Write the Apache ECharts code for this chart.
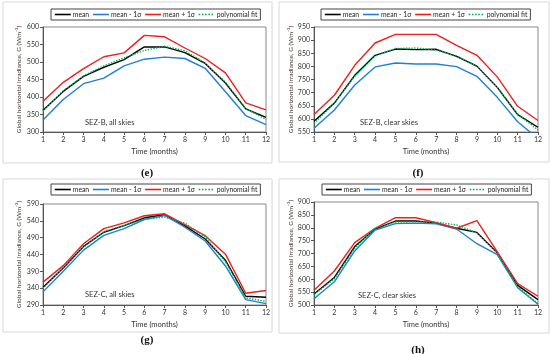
<!DOCTYPE html>
<html><head><meta charset="utf-8">
<script src="https://cdn.jsdelivr.net/npm/echarts@6/dist/echarts.min.js"></script>
<style>html,body{margin:0;padding:0;background:#fff;}#c{width:550px;height:354px;}</style>
</head><body><div id="c"></div>
<script>
const months = ['1','2','3','4','5','6','7','8','9','10','11','12'];
const seriesNames = ['mean', 'mean - 1σ', 'mean + 1σ', 'polynomial fit'];
const panelTitles = ['SEZ-B, all skies', 'SEZ-B, clear skies', 'SEZ-C, all skies', 'SEZ-C, clear skies'];
const panelLetters = ['(e)', '(f)', '(g)', '(h)'];
const yMin = [300, 550, 290, 500];
const yMax = [600, 950, 590, 900];

// (e) SEZ-B, all skies
const eMean  = [362, 416, 459, 485, 507, 543, 543, 527, 496, 440, 366, 342];
const eMinus = [334, 393, 438, 454, 489, 508, 514, 510, 482, 415, 347, 321];
const ePlus  = [388, 442, 481, 515, 526, 576, 572, 540, 510, 469, 383, 363];
const eFit   = [360, 418, 460, 489, 512, 533, 545, 532, 497, 442, 367, 336];
// (f) SEZ-B, clear skies
const fMean  = [591, 660, 766, 842, 866, 864, 865, 838, 801, 720, 616, 568];
const fMinus = [564, 634, 729, 798, 813, 809, 809, 799, 762, 682, 589, 525];
const fPlus  = [617, 690, 804, 889, 922, 922, 922, 880, 842, 760, 648, 594];
const fFit   = [583, 660, 762, 840, 868, 870, 862, 840, 800, 720, 618, 558];
// (g) SEZ-C, all skies
const gMean  = [343, 400, 464, 506, 526, 549, 558, 525, 486, 423, 316, 313];
const gMinus = [329, 390, 453, 497, 517, 544, 556, 521, 480, 406, 306, 294];
const gPlus  = [358, 407, 472, 517, 534, 555, 561, 529, 496, 441, 325, 333];
const gFit   = [340, 400, 462, 508, 526, 545, 551, 533, 492, 418, 311, 301];
// (h) SEZ-C, clear skies
const hMean  = [543, 607, 727, 795, 826, 826, 818, 798, 782, 703, 576, 521];
const hMinus = [524, 590, 710, 791, 816, 818, 815, 795, 738, 696, 567, 503];
const hPlus  = [557, 632, 742, 798, 839, 839, 820, 798, 828, 706, 583, 534];
const hFit   = [540, 602, 720, 799, 822, 823, 822, 811, 780, 702, 571, 505];

const panelData = [
  [eMean, eMinus, ePlus, eFit],
  [fMean, fMinus, fPlus, fFit],
  [gMean, gMinus, gPlus, gFit],
  [hMean, hMinus, hPlus, hFit]
];

const FONT = 'Lato';
const colors = ['#000000', '#1f7fd6', '#f21d1d', '#00b050'];
const lineTypes = ['solid', 'solid', 'solid', 'dotted'];

const grids = [
  {left: 43, top: 27, width: 223, height: 105},
  {left: 314, top: 27, width: 224, height: 105},
  {left: 43, top: 204, width: 223, height: 101},
  {left: 314, top: 202, width: 224, height: 103}
];
const boxes = [
  {x: 3, y: 2, w: 269, h: 161},
  {x: 279, y: 2, w: 270, h: 160},
  {x: 3, y: 179, w: 269, h: 153},
  {x: 279, y: 179, w: 270, h: 154}
];
const legendPos = [
  {left: 51, top: 9}, {left: 321, top: 9}, {left: 51, top: 184}, {left: 322, top: 184}
];
const annotPos = [[85, 119], [360, 119], [85, 291], [358, 292]];
const letterPos = [[147, 173], [418, 173], [147, 340], [418, 350]];
const yNameGap = [21, 19, 21, 19];

const option = {
  animation: false,
  backgroundColor: '#fff',
  grid: grids.map(g => Object.assign({show: true, borderColor: '#888', borderWidth: 1, backgroundColor: 'transparent'}, g)),
  legend: legendPos.map(p => ({
    left: p.left, top: p.top, width: 260,
    data: seriesNames,
    orient: 'horizontal',
    itemWidth: 16, itemHeight: 8, itemGap: 3,
    padding: [2, 3],
    borderColor: '#444', borderWidth: 1,
    selectedMode: false,
    itemStyle: {opacity: 0, borderWidth: 0},
    lineStyle: {width: 1.6},
    textStyle: {fontFamily: FONT, fontSize: 6.8, color: '#222', padding: [0, 0, 0, -3]}
  })),
  xAxis: grids.map((g, i) => ({
    gridIndex: i, type: 'category', data: months, boundaryGap: false,
    name: 'Time (months)', nameLocation: 'middle', nameGap: 16,
    nameTextStyle: {fontFamily: FONT, fontSize: 7.5, color: '#333'},
    axisLine: {lineStyle: {color: '#555', width: 1}},
    axisTick: {show: true, length: 3, lineStyle: {color: '#555'}},
    axisLabel: {fontFamily: FONT, fontSize: 7, color: '#333', margin: 4},
    splitLine: {show: false}
  })),
  yAxis: grids.map((g, i) => ({
    gridIndex: i, type: 'value', min: yMin[i], max: yMax[i], interval: 50,
    name: 'Global horizontal irradiance, G (Wm⁻²)', nameLocation: 'middle', nameGap: yNameGap[i],
    nameTextStyle: {fontFamily: FONT, fontSize: 6.5, color: '#4a3528'},
    axisLine: {show: true, lineStyle: {color: '#555', width: 1}},
    axisTick: {show: true, length: 3, lineStyle: {color: '#555'}},
    axisLabel: {fontFamily: FONT, fontSize: 7, color: '#333', margin: 4},
    splitLine: {show: false}
  })),
  series: [],
  graphic: []
};

panelData.forEach((arrs, p) => {
  arrs.forEach((d, k) => {
    option.series.push({
      name: seriesNames[k], type: 'line', xAxisIndex: p, yAxisIndex: p,
      data: d, symbol: 'none', clip: true, z: k === 3 ? 5 : 3,
      lineStyle: {color: colors[k], width: 1.4, type: lineTypes[k]},
      itemStyle: {color: colors[k]}
    });
  });
  const b = boxes[p];
  option.graphic.push({type: 'rect', shape: {x: b.x, y: b.y, width: b.w, height: b.h},
    style: {fill: 'none', stroke: '#d8d8d8', lineWidth: 1}, z: -1, silent: true});
  option.graphic.push({type: 'text', x: annotPos[p][0], y: annotPos[p][1],
    style: {text: panelTitles[p], fontFamily: FONT, fontSize: 7.5, fill: '#333'}});
  option.graphic.push({type: 'text', x: letterPos[p][0], y: letterPos[p][1],
    style: {text: panelLetters[p], fontFamily: 'Liberation Serif', fontSize: 11, fontWeight: 'bold', fill: '#111',
      align: 'center', verticalAlign: 'middle'}});
});

const chart = echarts.init(document.getElementById('c'), null, {renderer: 'canvas'});
chart.setOption(option);
</script>
</body></html>
